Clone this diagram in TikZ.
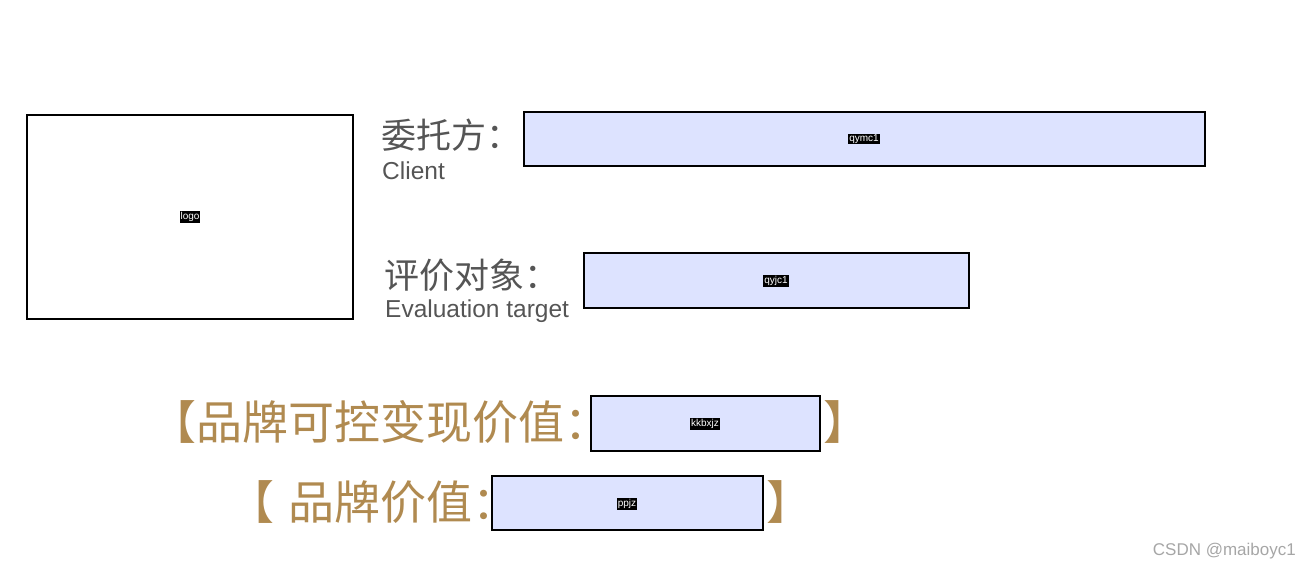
\documentclass[tikz,border=0pt]{standalone}
\usepackage{fontspec}
\setmainfont{Liberation Sans}
\newfontfamily\cjk{Noto Sans CJK SC}
\definecolor{boxfill}{HTML}{DDE3FF}
\definecolor{brn}{HTML}{B08A50}
\definecolor{gtxt}{HTML}{555555}
\begin{document}
\begin{tikzpicture}[x=1pt,y=-1pt,
  field/.style={draw=black,line width=1.5pt,fill=boxfill},
  tag/.style={fill=black,text=white,inner sep=1pt,font=\fontsize{10}{11}\selectfont},
  cn/.style={anchor=west,inner sep=0pt,text=gtxt,font=\cjk\fontsize{35}{38}\selectfont},
  en/.style={anchor=west,inner sep=0pt,text=gtxt,font=\fontsize{24.5}{27}\selectfont},
  big/.style={anchor=west,inner sep=0pt,text=brn,font=\cjk\fontsize{46}{50}\selectfont}]
\useasboundingbox (0,0) rectangle (1307,572);
\draw[line width=1.5pt] (27,115) rectangle (353,319);
\node[tag] (logo) at (190,217) {logo};
\draw[field] (524,112) rectangle (1205,166);
\node[tag] (q1) at (864,139) {qymc1};
\draw[field] (584,253) rectangle (969,308);
\node[tag] (q2) at (776,281) {qyjc1};
\draw[field] (591,396) rectangle (820,451);
\node[tag] (q3) at (705,424) {kkbxjz};
\draw[field] (492,476) rectangle (763,530);
\node[tag] (q4) at (627,504) {ppjz};
\node[cn] (t1) at (381,135) {委托方：};
\node[en] (t1e) at (382,171) {Client};
\node[cn] (t2) at (384,275) {评价对象：};
\node[en] (t2e) at (385,311) {Evaluation target};
\node[big] (b1) at (150,422) {【品牌可控变现价值：};
\node[big] (b1r) at (823,422) {】};
\node[big] (b2) at (228,502) {【};
\node[big] (b2t) at (288,502) {品牌价值：};
\node[big] (b2r) at (766,502) {】};
\node[anchor=east,inner sep=0pt,text=gray!70,font=\fontsize{17}{19}\selectfont] (wm) at (1296,551) {CSDN @maiboyc1};
\end{tikzpicture}
\end{document}
